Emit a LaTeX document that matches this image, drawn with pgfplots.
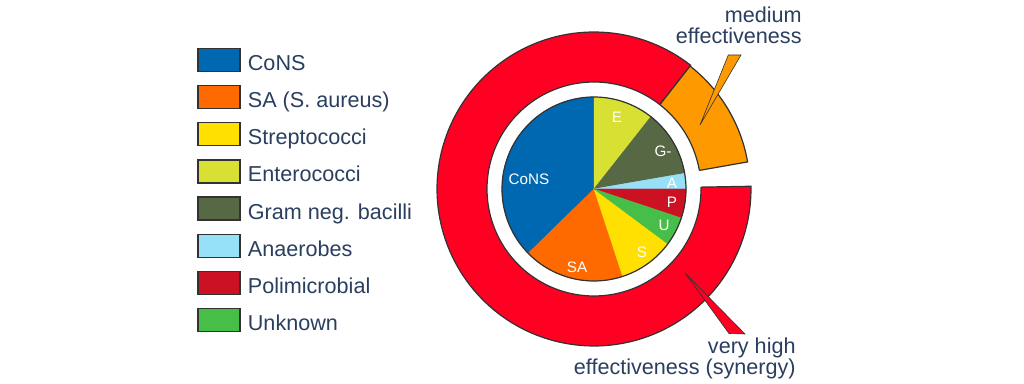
\documentclass[border=0pt]{standalone}
\usepackage{pgfplots}
\pgfplotsset{compat=1.18}
\usepackage{fontspec}
\setmainfont{Liberation Sans}
\definecolor{cons}{RGB}{0,104,176}
\definecolor{sa}{RGB}{255,106,0}
\definecolor{strep}{RGB}{255,224,0}
\definecolor{entero}{RGB}{217,224,52}
\definecolor{gram}{RGB}{86,104,68}
\definecolor{anaer}{RGB}{150,224,248}
\definecolor{polim}{RGB}{204,17,34}
\definecolor{unkn}{RGB}{70,190,72}
\definecolor{ringred}{RGB}{255,0,34}
\definecolor{ringorange}{RGB}{255,153,0}
\definecolor{txt}{RGB}{42,62,95}
\definecolor{edge}{RGB}{50,50,50}
\begin{document}
\begin{tikzpicture}
\begin{axis}[width=512pt,height=192pt,scale only axis,
  xmin=0,xmax=1024,ymin=0,ymax=384,hide axis,clip=false,samples=150]
\path (rel axis cs:0,0) rectangle (rel axis cs:1,1);
% ---- outer ring (effectiveness) ----
\addplot[fill=ringred, draw=edge, line width=0.6pt, domain=52:361]
  ({594+157*cos(x)},{195+157*sin(x)}) -- (axis cs:594,195) -- cycle;
\addplot[fill=ringorange, draw=edge, line width=0.6pt, domain=10:52]
  ({594+156*cos(x)},{195+156*sin(x)}) -- (axis cs:594,195) -- cycle;
\addplot[fill=white, draw=none, domain=0:360]
  ({594+107*cos(x)},{195+107*sin(x)}) -- cycle;
\addplot[draw=edge, line width=0.6pt, domain=10:361]
  ({594+107*cos(x)},{195+107*sin(x)});
% ---- inner pie ----
\addplot[fill=cons, draw=cons, line width=0.2pt, domain=90:224.3]
  ({594+92*cos(x)},{195+92*sin(x)}) -- (axis cs:594,195) -- cycle;
\addplot[fill=sa, draw=sa, line width=0.2pt, domain=-135.7:-71.8]
  ({594+92*cos(x)},{195+92*sin(x)}) -- (axis cs:594,195) -- cycle;
\addplot[fill=strep, draw=strep, line width=0.2pt, domain=-71.8:-36.6]
  ({594+92*cos(x)},{195+92*sin(x)}) -- (axis cs:594,195) -- cycle;
\addplot[fill=entero, draw=entero, line width=0.2pt, domain=51.8:90]
  ({594+92*cos(x)},{195+92*sin(x)}) -- (axis cs:594,195) -- cycle;
\addplot[fill=gram, draw=gram, line width=0.2pt, domain=9.8:51.8]
  ({594+92*cos(x)},{195+92*sin(x)}) -- (axis cs:594,195) -- cycle;
\addplot[fill=anaer, draw=anaer, line width=0.2pt, domain=0:9.8]
  ({594+92*cos(x)},{195+92*sin(x)}) -- (axis cs:594,195) -- cycle;
\addplot[fill=polim, draw=polim, line width=0.2pt, domain=-18.4:0]
  ({594+92*cos(x)},{195+92*sin(x)}) -- (axis cs:594,195) -- cycle;
\addplot[fill=unkn, draw=unkn, line width=0.2pt, domain=-36.6:-18.4]
  ({594+92*cos(x)},{195+92*sin(x)}) -- (axis cs:594,195) -- cycle;
\addplot[draw=edge, line width=0.6pt, domain=0:360]
  ({594+92*cos(x)},{195+92*sin(x)}) -- cycle;
% ---- pie labels ----
\begin{scope}[every node/.style={text=white, inner sep=0pt, font=\fontsize{7.6}{9}\selectfont}]
\node at (axis cs:529,205) {CoNS};
\node at (axis cs:617,267) {E};
\node at (axis cs:663,233) {G-};
\node at (axis cs:672,201) {A};
\node at (axis cs:672,182) {P};
\node at (axis cs:664,159) {U};
\node at (axis cs:642,132) {S};
\node at (axis cs:577,117) {SA};
\end{scope}
% ---- pointers ----
\addplot[fill=ringorange, draw=edge, line width=0.3pt]
  coordinates {(700,259) (728.3,329) (741,329)} -- cycle;
\addplot[fill=ringred, draw=edge, line width=0.3pt]
  coordinates {(685,111) (729,50.5) (745,50)} -- cycle;
% ---- annotations ----
\begin{scope}[every node/.style={text=txt, inner sep=0pt, anchor=base east, font=\fontsize{10.8}{12}\selectfont}]
\node at (axis cs:802,361.3) {medium};
\node at (axis cs:802,340.7) {effectiveness};
\node at (axis cs:796,30) {very high};
\node at (axis cs:796,9.7) {effectiveness (synergy)};
\end{scope}
% ---- legend ----
\addplot[fill=cons, draw=edge, line width=0.6pt] coordinates {(198,312.5) (240,312.5) (240,335.5) (198,335.5)} -- cycle;
\addplot[fill=sa, draw=edge, line width=0.6pt] coordinates {(198,275.36) (240,275.36) (240,298.36) (198,298.36)} -- cycle;
\addplot[fill=strep, draw=edge, line width=0.6pt] coordinates {(198,238.21) (240,238.21) (240,261.21) (198,261.21)} -- cycle;
\addplot[fill=entero, draw=edge, line width=0.6pt] coordinates {(198,201.07) (240,201.07) (240,224.07) (198,224.07)} -- cycle;
\addplot[fill=gram, draw=edge, line width=0.6pt] coordinates {(198,163.93) (240,163.93) (240,186.93) (198,186.93)} -- cycle;
\addplot[fill=anaer, draw=edge, line width=0.6pt] coordinates {(198,126.79) (240,126.79) (240,149.79) (198,149.79)} -- cycle;
\addplot[fill=polim, draw=edge, line width=0.6pt] coordinates {(198,89.64) (240,89.64) (240,112.64) (198,112.64)} -- cycle;
\addplot[fill=unkn, draw=edge, line width=0.6pt] coordinates {(198,52.5) (240,52.5) (240,75.5) (198,75.5)} -- cycle;
\begin{scope}[every node/.style={text=txt, inner sep=0pt, anchor=base west, font=\fontsize{10.8}{12}\selectfont}]
\node at (axis cs:247.5,313.5) {CoNS};
\node at (axis cs:247.5,276.36) {SA (S. aureus)};
\node at (axis cs:247.5,239.21) {Streptococci};
\node at (axis cs:247.5,202.07) {Enterococci};
\node at (axis cs:247.5,164.93) {Gram neg. bacilli};
\node at (axis cs:247.5,127.79) {Anaerobes};
\node at (axis cs:247.5,90.64) {Polimicrobial};
\node at (axis cs:247.5,53.5) {Unknown};
\end{scope}
\end{axis}
\end{tikzpicture}
\end{document}
